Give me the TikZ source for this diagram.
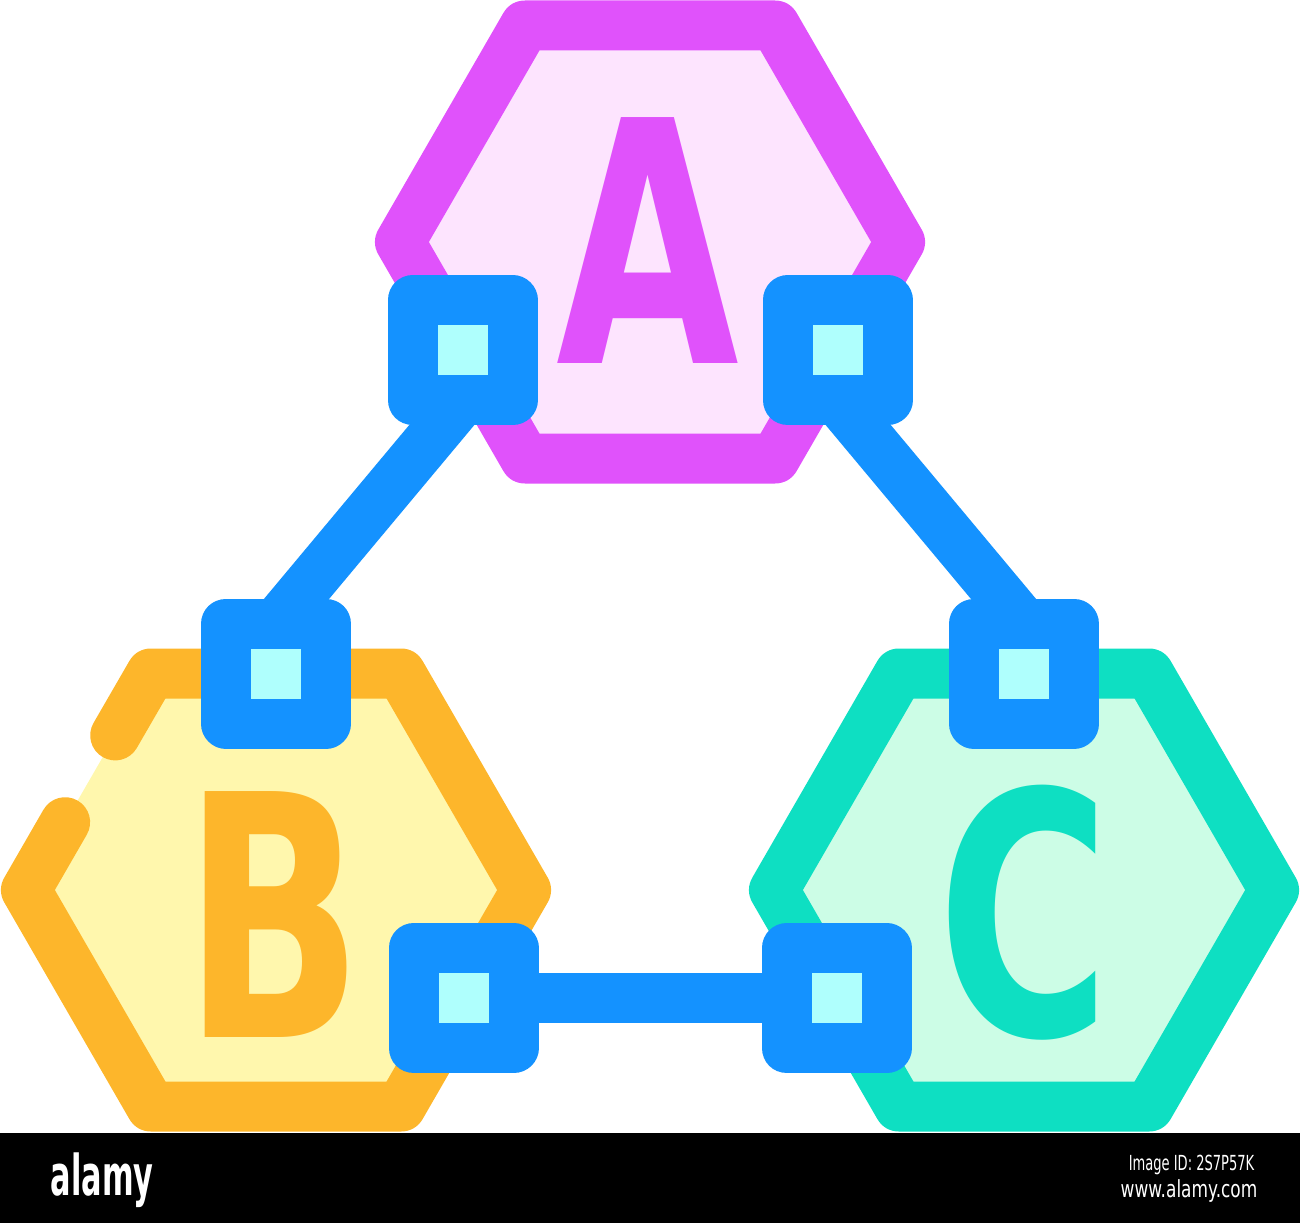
\documentclass[tikz,border=0pt]{standalone}
\usepackage{fontspec}
\setmainfont{DejaVu Sans}

\definecolor{magentaline}{HTML}{E052FB}
\definecolor{magentafill}{HTML}{FDE4FE}
\definecolor{orangeline}{HTML}{FDB62B}
\definecolor{orangefill}{HTML}{FFF7AD}
\definecolor{tealline}{HTML}{0EDFC2}
\definecolor{tealfill}{HTML}{CCFDE6}
\definecolor{portblue}{HTML}{1492FF}
\definecolor{portcyan}{HTML}{AFFFFD}

\pgfdeclarelayer{hexes}
\pgfdeclarelayer{links}
\pgfsetlayers{hexes,links,main}

\tikzset{
  hexline/.style={line width=0.5cm, line join=round, line cap=round},
  port/.style={draw=portblue, fill=portcyan, line width=0.5cm, line join=round,
    minimum size=1cm, inner sep=0pt, outer sep=0pt},
  link/.style={draw=portblue, line width=0.5cm},
  letter/.style={anchor=base, inner sep=0pt, font=\fontsize{96}{96}\selectfont\bfseries},
  bartext/.style={white, inner sep=0pt}
}

\begin{document}
\begin{tikzpicture}
\useasboundingbox (0,0) rectangle (13,12.23);

\begin{pgfonlayer}{hexes}
% hexagon A
\filldraw[hexline, draw=magentaline, fill=magentafill] (4.0,9.81) -- (5.25,11.975) -- (7.75,11.975) -- (9.0,9.81) -- (7.75,7.645) -- (5.25,7.645) -- cycle;

% hexagon B, open on its upper left side
\fill[orangefill] (0.26,3.33) -- (1.51,5.495) -- (4.01,5.495) -- (5.26,3.33) -- (4.01,1.165) -- (1.51,1.165) -- cycle;
\draw[hexline, orangeline] (0.651,4.008) -- (0.26,3.33) -- (1.51,1.165) -- (4.01,1.165) -- (5.26,3.33) -- (4.01,5.495) -- (1.51,5.495) -- (1.152,4.876);

% hexagon C
\filldraw[hexline, draw=tealline, fill=tealfill] (7.74,3.33) -- (8.99,5.495) -- (11.49,5.495) -- (12.74,3.33) -- (11.49,1.165) -- (8.99,1.165) -- cycle;
\end{pgfonlayer}

\node (A) at (6.48, 8.60) [letter, magentaline] {\scalebox{0.7}[1]{A}};
\node (B) at (2.74, 1.86) [letter, orangeline] {\scalebox{0.7}[1]{B}};
\node (C) at (10.24, 1.88) [letter, tealline] {\scalebox{0.7}[1]{C}};

\node (sqAB) at (4.625, 8.728) [port] {};
\node (sqAC) at (8.375, 8.728) [port] {};
\node (sqBA) at (2.76, 5.495) [port] {};
\node (sqCA) at (10.24, 5.495) [port] {};
\node (sqBC) at (4.635, 2.248) [port] {};
\node (sqCB) at (8.365, 2.248) [port] {};

\begin{pgfonlayer}{links}
\draw[link] (sqAB.south) -- (sqBA.north);
\draw[link] (sqAC.south) -- (sqCA.north);
\draw[link] (sqBC.east) -- (sqCB.west);
\end{pgfonlayer}

% bottom bar
\fill[black] (0,0) rectangle (13,0.90);
\node (logo) at (0.50,0.28) [bartext, anchor=base west, font=\fontsize{16}{16}\selectfont\bfseries] {\scalebox{0.54}[1]{alamy}};
\node (imageid) at (12.55,0.53) [bartext, anchor=base east, font=\fontsize{5.9}{6}\selectfont] {\scalebox{0.63}[1]{Image ID: 2S7P57K}};
\node (site) at (12.58,0.26) [bartext, anchor=base east, font=\fontsize{6.7}{7}\selectfont] {\scalebox{0.72}[1]{www.alamy.com}};

\end{tikzpicture}
\end{document}
